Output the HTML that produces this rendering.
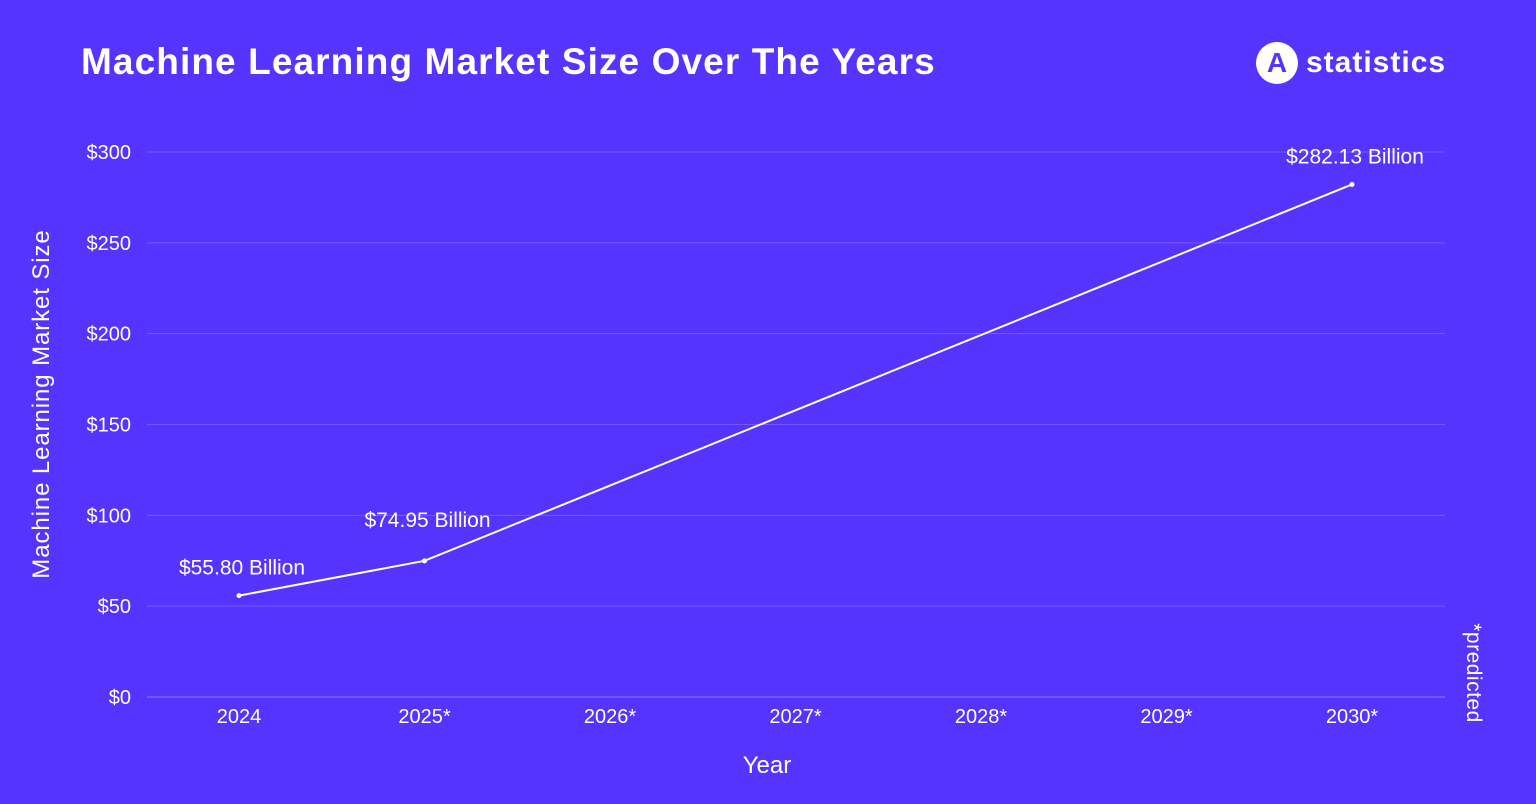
<!DOCTYPE html>
<html><head><meta charset="utf-8">
<style>
html,body{margin:0;padding:0;}
body{width:1536px;height:804px;background:#5634FF;overflow:hidden;font-family:"Liberation Sans",sans-serif;color:#fff;position:relative;}
#title{position:absolute;left:81px;top:41px;font-size:37px;font-weight:bold;letter-spacing:1.1px;}
#logo{position:absolute;left:1256px;top:42px;height:42px;display:flex;align-items:center;}
#logo .circ{width:42px;height:42px;border-radius:50%;background:#fff;color:#5634FF;font-weight:bold;font-size:28px;display:flex;align-items:center;justify-content:center;}
#logo .txt{margin-left:8px;font-size:30px;font-weight:bold;letter-spacing:1px;}
</style></head><body>
<div id="title">Machine Learning Market Size Over The Years</div>
<div id="logo"><div class="circ">A</div><div class="txt">statistics</div></div>
<svg id="chart" width="1536" height="804" style="position:absolute;left:0;top:0"></svg>
<script>
const years=["2024","2025*","2026*","2027*","2028*","2029*","2030*"];
const values=[55.80,74.95,null,null,null,null,282.13];
const valueLabels=["$55.80 Billion","$74.95 Billion",null,null,null,null,"$282.13 Billion"];
const yTicks=[0,50,100,150,200,250,300];
const yTickLabels=["$0","$50","$100","$150","$200","$250","$300"];

const svg=document.getElementById('chart');
const NS='http://www.w3.org/2000/svg';
const plotL=147,plotR=1445,y0=697,yTop=152,x0=239,x1=1352;
function xs(i){return x0+(x1-x0)*i/(years.length-1);}
function ys(v){return y0-(y0-yTop)*v/300;}
function mk(tag,attrs,txt){const e=document.createElementNS(NS,tag);for(const k in attrs)e.setAttribute(k,attrs[k]);if(txt!=null)e.textContent=txt;svg.appendChild(e);return e;}

yTicks.forEach((t,i)=>{
  const g=mk('line',{x1:plotL,x2:plotR,y1:ys(t),y2:ys(t),stroke:t===0?'rgba(255,255,255,0.35)':'rgba(255,255,255,0.18)','stroke-width':1});
  
  
  const l=mk('text',{x:131,y:ys(t)+7,'text-anchor':'end',fill:'#fff','font-size':20},yTickLabels[i]);
  
  
});
years.forEach((y,i)=>{
  const l=mk('text',{x:xs(i),y:723,'text-anchor':'middle',fill:'#fff','font-size':20},y);
  
  
});
const pts=[];
values.forEach((v,i)=>{if(v!=null)pts.push([xs(i),ys(v),i]);});
const line=mk('polyline',{points:pts.map(p=>p[0]+','+p[1]).join(' '),fill:'none',stroke:'#fff','stroke-width':2});


pts.forEach((p,k)=>{
  const c=mk('circle',{cx:p[0],cy:p[1],r:2.5,fill:'#fff'});
  
  
  const dy=(k>0&&k<pts.length-1)?-34:-21;
  const t=mk('text',{x:p[0]+3,y:p[1]+dy,'text-anchor':'middle',fill:'#fff','font-size':21},valueLabels[p[2]]);
  
  
});
const xt=mk('text',{x:767,y:773,'text-anchor':'middle',fill:'#fff','font-size':24},'Year');


const yt=mk('text',{x:0,y:0,'text-anchor':'middle',fill:'#fff','font-size':24,'letter-spacing':0.9,transform:'translate(49,404) rotate(-90)'},'Machine Learning Market Size');


const pn=mk('text',{x:0,y:0,'text-anchor':'middle',fill:'#fff','font-size':21,'letter-spacing':0.5,transform:'translate(1467,673) rotate(90)'},'*predicted');


</script>
</body></html>
